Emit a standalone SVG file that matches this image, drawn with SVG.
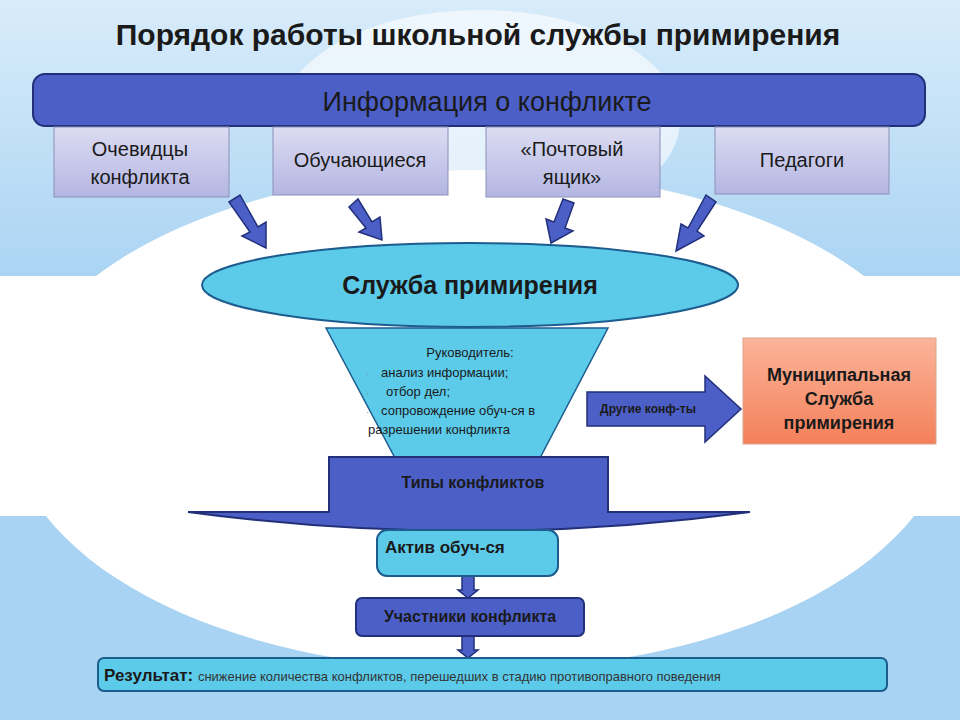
<svg xmlns="http://www.w3.org/2000/svg" width="960" height="720" viewBox="0 0 960 720">
<defs>
<linearGradient id="bg" x1="0" y1="0" x2="0" y2="1"><stop offset="0" stop-color="#d8ecfa"/><stop offset="0.4" stop-color="#a9d3f3"/><stop offset="1" stop-color="#a9d3f3"/></linearGradient>
<linearGradient id="org" x1="0" y1="0" x2="0" y2="1"><stop offset="0" stop-color="#fbb49a"/><stop offset="1" stop-color="#f4805a"/></linearGradient>
<linearGradient id="gb" x1="0" y1="0" x2="0" y2="1"><stop offset="0" stop-color="#dcdcf2"/><stop offset="1" stop-color="#b4b6e2"/></linearGradient>
<style>
.t{font-family:"Liberation Sans",Arial,sans-serif;fill:#1a1a1a}
.b{font-weight:bold}
.dk{fill:#4b5fc7;stroke:#22307a;stroke-width:2}
.lt{fill:#5ccbea;stroke:#1d5c8e;stroke-width:2}
.gr{fill:url(#gb);stroke:#8b8fb8;stroke-width:1}
.ar{fill:#4b5fc7;stroke:#22307a;stroke-width:1.5}
</style>
</defs>
<rect width="960" height="720" fill="url(#bg)"/>
<ellipse cx="480" cy="420" rx="470" ry="250" fill="#fff"/>
<rect x="0" y="276" width="960" height="240" fill="#fff"/>
<ellipse cx="480" cy="120" rx="200" ry="110" fill="#fff" opacity="0.6"/>
<text class="t b" x="478" y="45" font-size="30" text-anchor="middle">Порядок работы школьной службы примирения</text>
<g id="info"><rect x="33" y="74" width="892" height="52" rx="12" class="dk"/><text class="t" x="487" y="111" font-size="27" text-anchor="middle">Информация о конфликте</text></g>
<g id="n1"><rect x="54" y="127" width="175" height="70" class="gr"/><text class="t" x="140" y="156" font-size="20" text-anchor="middle">Очевидцы</text><text class="t" x="140" y="184" font-size="20" text-anchor="middle">конфликта</text></g>
<g id="n2"><rect x="273" y="127" width="175" height="68" class="gr"/><text class="t" x="360" y="167" font-size="20" text-anchor="middle">Обучающиеся</text></g>
<g id="n3"><rect x="486" y="127" width="174" height="70" class="gr"/><text class="t" x="572" y="156" font-size="20" text-anchor="middle">«Почтовый</text><text class="t" x="572" y="184" font-size="20" text-anchor="middle">ящик»</text></g>
<g id="n4"><rect x="715" y="127" width="174" height="67" class="gr"/><text class="t" x="802" y="167" font-size="20" text-anchor="middle">Педагоги</text></g>
<g id="connectors">
<polygon class="ar" points="229,202 240,195 258,227 266,222 266,248 242,236 250,232"/>
<polygon class="ar" points="349,207 358,199 372,222 380,217 382,240 359,232 366,228"/>
<polygon class="ar" points="563,199 574,203 565,228 573,231 551,243 546,219 554,222"/>
<polygon class="ar" points="706,195 716,202 697,231 704,236 676,251 681,224 688,228"/>
<polygon class="ar" points="587,392 705,392 705,376 741,409 705,442 705,426 587,426"/>
<polygon class="ar" points="462,576 474,576 474,590 478,590 468,598 458,590 462,590"/>
<polygon class="ar" points="462,636 474,636 474,650 478,650 468,658 458,650 462,650"/>
</g>
<text class="t b" x="648" y="413" font-size="12" text-anchor="middle">Другие конф-ты</text>
<g id="sluzhba"><ellipse cx="470" cy="285" rx="268" ry="42" class="lt"/><text class="t b" x="470" y="294" font-size="25" text-anchor="middle">Служба примирения</text></g>
<g id="funnel"><polygon points="326,328 608,328 540,458 395,458" fill="#5ccbea" stroke="#1d5c8e" stroke-width="1.5"/>
<text class="t" x="470" y="357" font-size="13" text-anchor="middle" fill="#333">Руководитель:</text>
<text class="t" x="381" y="377" font-size="13" fill="#333">анализ информации;</text>
<text class="t" x="386" y="396" font-size="13" fill="#333">отбор дел;</text>
<text class="t" x="381" y="415" font-size="13" fill="#333">сопровождение обуч-ся в</text>
<text class="t" x="368" y="434" font-size="13" fill="#333">разрешении конфликта</text>
<text x="366" y="378" font-size="10" fill="#888">·</text><text x="366" y="397" font-size="10" fill="#888">·</text><text x="366" y="416" font-size="10" fill="#888">·</text></g>
<g id="tipy"><path d="M329,457 H608 V512 L750,512 Q470,550 188,512 L329,512 Z" class="dk"/><text class="t b" x="473" y="488" font-size="16" text-anchor="middle">Типы конфликтов</text></g>
<g id="mun"><rect x="743" y="338" width="193" height="106" fill="url(#org)" stroke="#d9a58e"/><text class="t b" x="839" y="381" font-size="18" text-anchor="middle">Муниципальная</text><text class="t b" x="839" y="405" font-size="18" text-anchor="middle">Служба</text><text class="t b" x="839" y="429" font-size="18" text-anchor="middle">примирения</text></g>
<g id="aktiv"><rect x="377" y="530" width="181" height="46" rx="10" class="lt"/><text class="t b" x="385" y="553" font-size="17">Актив обуч-ся</text></g>
<g id="uch"><rect x="356" y="598" width="228" height="38" rx="6" class="dk"/><text class="t b" x="470" y="622" font-size="16" text-anchor="middle">Участники конфликта</text></g>
<g id="res"><rect x="98" y="658" width="789" height="33" rx="6" class="lt"/><text class="t" x="104" y="681" font-size="13"><tspan class="b" font-size="17">Результат: </tspan><tspan fill="#333">снижение количества конфликтов, перешедших в стадию противоправного поведения</tspan></text></g>
</svg>
